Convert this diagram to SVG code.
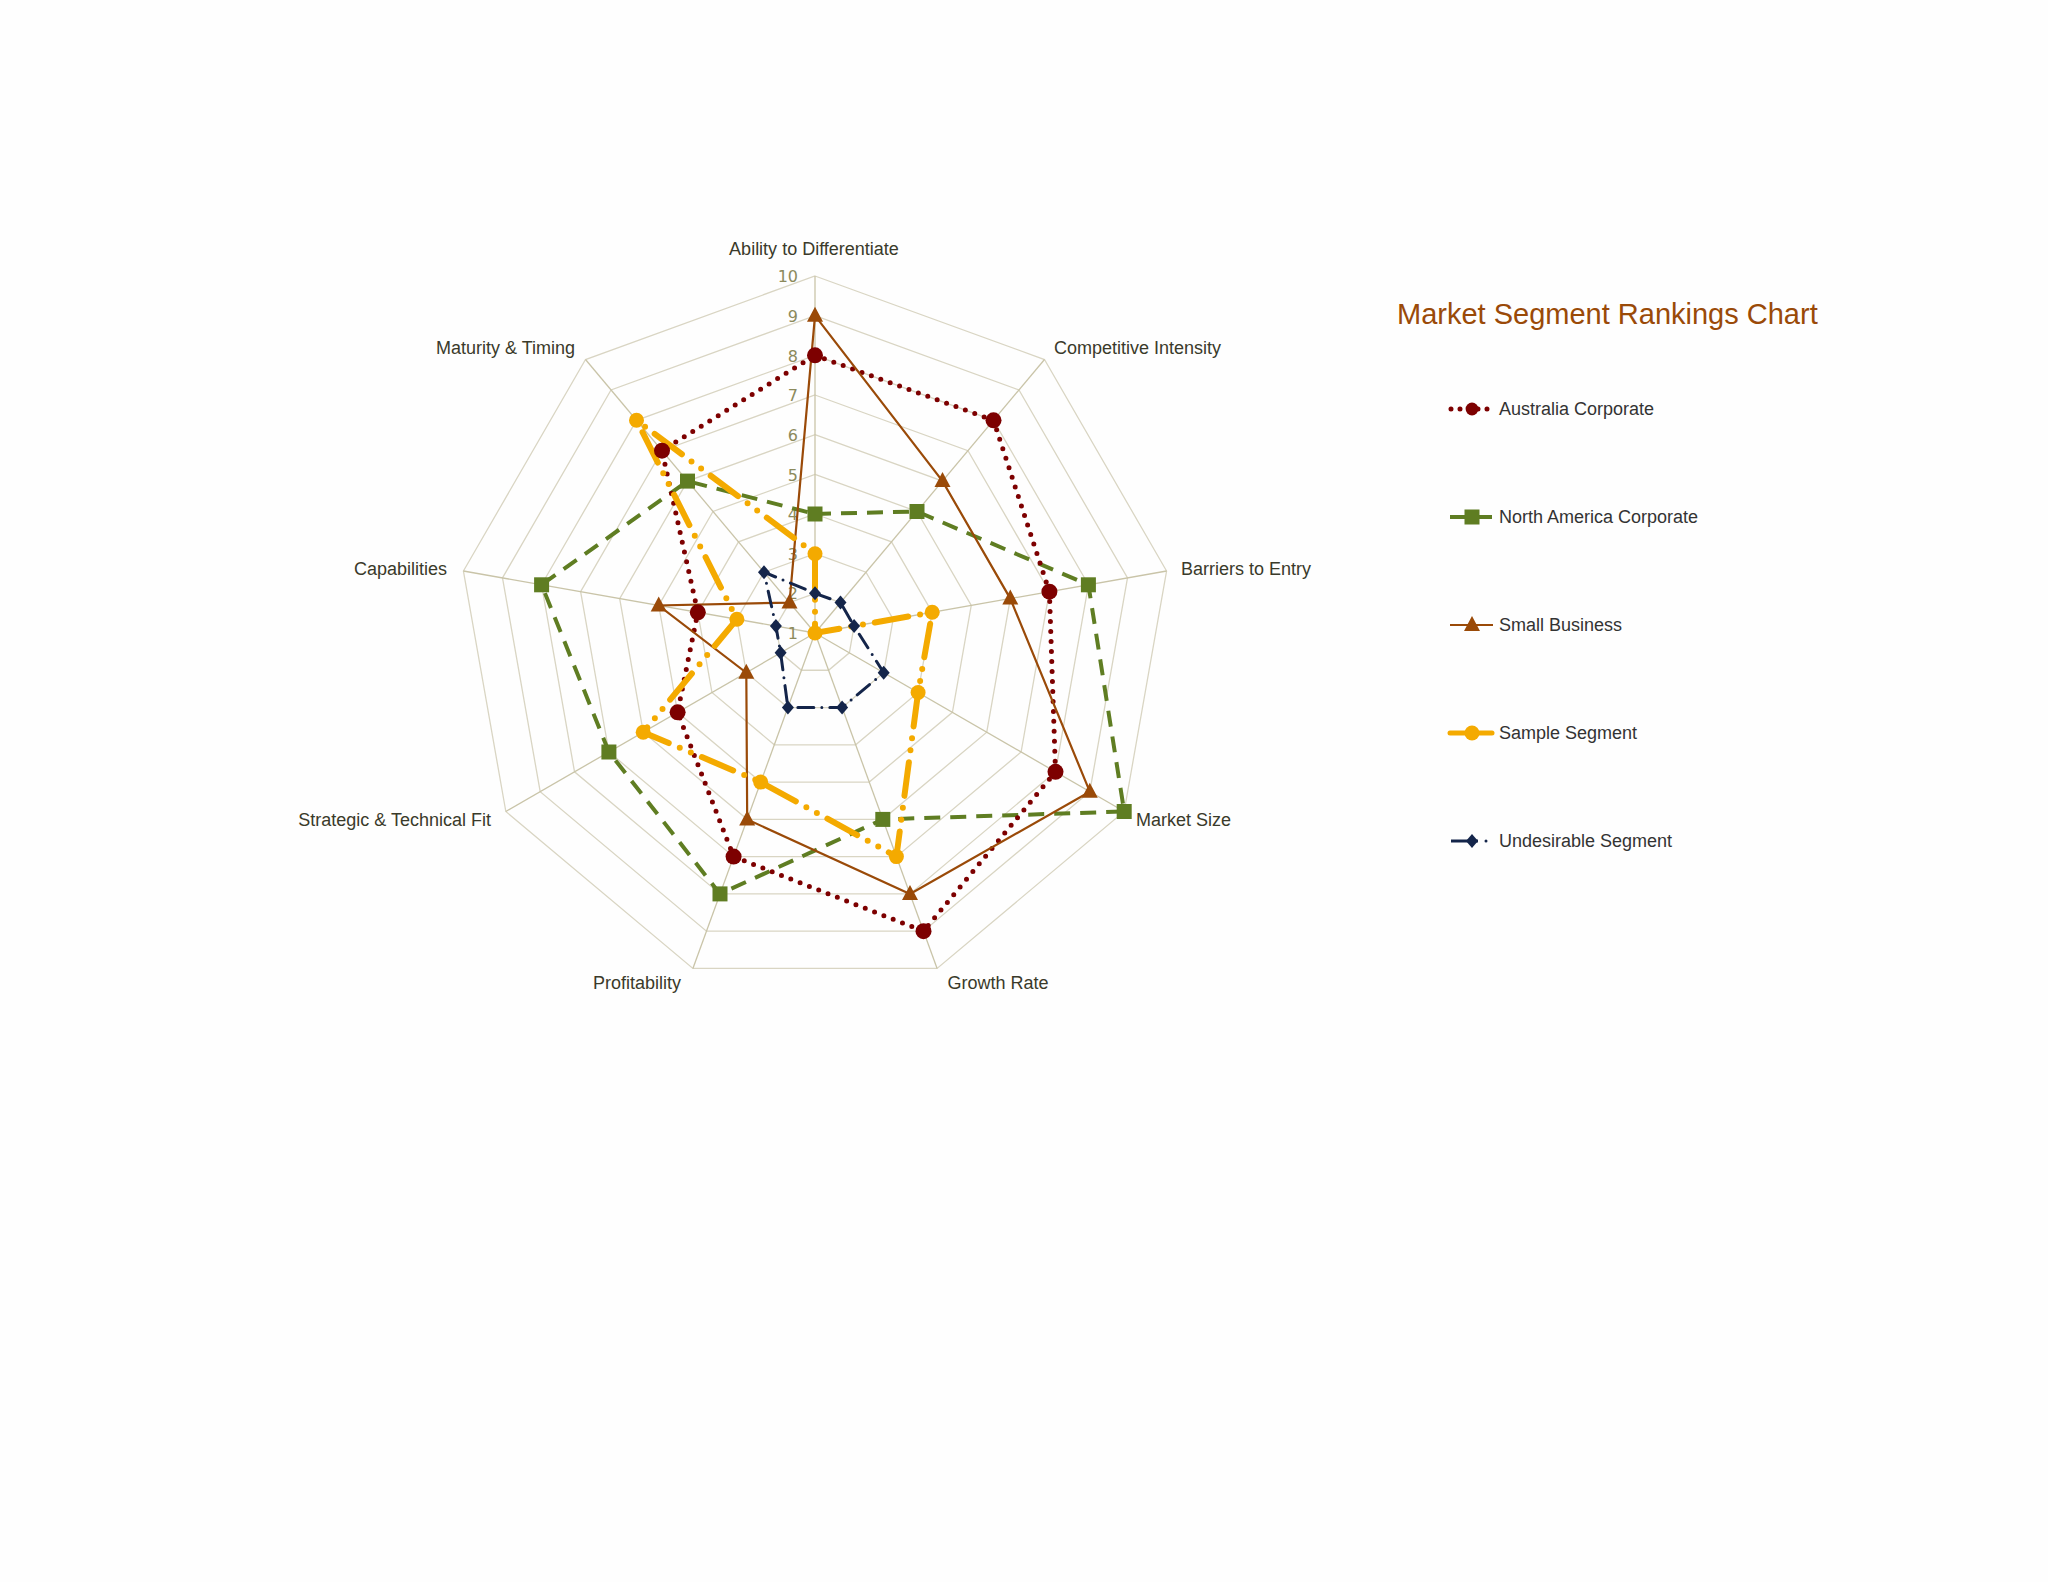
<svg xmlns="http://www.w3.org/2000/svg" xmlns:xlink="http://www.w3.org/1999/xlink" width="2048" height="1582" viewBox="0 0 2048 1582">
<style>
text{font-family:"Liberation Sans",Arial,sans-serif}
.ax{font-size:18px;fill:#3a3a2a}
.lv{font-size:16px;fill:#8c8a5c;text-anchor:end;font-family:"DejaVu Sans",sans-serif}
.ring{fill:none;stroke:#d9d5c3;stroke-width:1.3}
.spoke{stroke:#c9c4a8;stroke-width:1.3}
.au{fill:none;stroke:#7d0000;stroke-width:5;stroke-dasharray:0 10;stroke-linecap:round}
.na{fill:none;stroke:#5f7d22;stroke-width:4;stroke-dasharray:16 10}
.sb{fill:none;stroke:#9a4a08;stroke-width:2.2}
.ss{fill:none;stroke:#f4aa00;stroke-width:6;stroke-dasharray:34 12 0 12 0 12;stroke-linecap:round}
.un{fill:none;stroke:#14254a;stroke-width:3;stroke-dasharray:16 8 0 8;stroke-linecap:round}
.lg{font-size:18px;fill:#333}
</style>
<defs>
<circle id="mc" r="8" fill="#7d0000"/>
<rect id="ms" x="-7.5" y="-7.5" width="15" height="15" fill="#5f7d22"/>
<path id="mt" d="M0,-9 L8,6 L-8,6Z" fill="#9a4a08"/>
<circle id="my" r="7.5" fill="#f4aa00"/>
<path id="md" d="M0,-7 L6,0 L0,7 L-6,0Z" fill="#14254a"/>
<polygon id="nona" points="0,-1 0.6428,-0.766 0.9848,-0.1736 0.866,0.5 0.342,0.9397 -0.342,0.9397 -0.866,0.5 -0.9848,-0.1736 -0.6428,-0.766"/>
</defs>
<rect width="2048" height="1582" fill="#fefefe"/>
<g id="grid">
<g transform="translate(815,633)">
<use href="#nona" class="ring" transform="scale(39.67)" vector-effect="non-scaling-stroke" style="stroke-width:0.033"/>
<use href="#nona" class="ring" transform="scale(79.33)" style="stroke-width:0.0164"/>
<use href="#nona" class="ring" transform="scale(119)" style="stroke-width:0.011"/>
<use href="#nona" class="ring" transform="scale(158.67)" style="stroke-width:0.0082"/>
<use href="#nona" class="ring" transform="scale(198.33)" style="stroke-width:0.0066"/>
<use href="#nona" class="ring" transform="scale(238)" style="stroke-width:0.0055"/>
<use href="#nona" class="ring" transform="scale(277.67)" style="stroke-width:0.0047"/>
<use href="#nona" class="ring" transform="scale(317.33)" style="stroke-width:0.0041"/>
<use href="#nona" class="ring" transform="scale(357)" style="stroke-width:0.0036"/>
</g>
<line class="spoke" x1="815" y1="633" x2="815" y2="276"/>
<line class="spoke" x1="815" y1="633" x2="1044.5" y2="359.5"/>
<line class="spoke" x1="815" y1="633" x2="1166.6" y2="571"/>
<line class="spoke" x1="815" y1="633" x2="1124.2" y2="811.5"/>
<line class="spoke" x1="815" y1="633" x2="937.1" y2="968.5"/>
<line class="spoke" x1="815" y1="633" x2="692.9" y2="968.5"/>
<line class="spoke" x1="815" y1="633" x2="505.8" y2="811.5"/>
<line class="spoke" x1="815" y1="633" x2="463.4" y2="571"/>
<line class="spoke" x1="815" y1="633" x2="585.5" y2="359.5"/>
</g>
<g id="levels">
<text class="lv" x="798" y="639">1</text>
<text class="lv" x="798" y="599">2</text>
<text class="lv" x="798" y="560">3</text>
<text class="lv" x="798" y="520">4</text>
<text class="lv" x="798" y="481">5</text>
<text class="lv" x="798" y="441">6</text>
<text class="lv" x="798" y="401">7</text>
<text class="lv" x="798" y="362">8</text>
<text class="lv" x="798" y="322">9</text>
<text class="lv" x="798" y="282">10</text>
</g>
<g id="axis-labels">
<text class="ax" x="814" y="255" text-anchor="middle">Ability to Differentiate</text>
<text class="ax" x="1054" y="354">Competitive Intensity</text>
<text class="ax" x="1181" y="575">Barriers to Entry</text>
<text class="ax" x="1136" y="826">Market Size</text>
<text class="ax" x="998" y="989" text-anchor="middle">Growth Rate</text>
<text class="ax" x="637" y="989" text-anchor="middle">Profitability</text>
<text class="ax" x="491" y="826" text-anchor="end">Strategic &amp; Technical Fit</text>
<text class="ax" x="447" y="575" text-anchor="end">Capabilities</text>
<text class="ax" x="575" y="354" text-anchor="end">Maturity &amp; Timing</text>
</g>
<g id="connectors">
<polygon class="na" points="815,514 917,511.5 1088.4,584.8 1124.2,811.5 882.8,819.4 720,893.9 608.9,752 541.6,584.8 687.5,481.1"/>
<polygon class="au" points="815,355.3 993.5,420.3 1049.4,591.7 1055.5,771.8 923.5,931.2 733.6,856.6 677.6,712.3 697.8,612.3 662,450.7"/>
<polygon class="sb" points="815,315.7 942.5,481.1 1010.3,598.6 1089.8,791.7 910,893.9 747.2,819.4 746.3,672.7 658.7,605.5 789.5,602.6"/>
<polygon class="ss" points="815,553.7 815,633 932.2,612.3 918.1,692.5 896.4,856.6 760.7,782.1 643.2,732.2 736.9,619.2 636.5,420.3"/>
<polygon class="un" points="815,593.3 840.5,602.6 854.1,626.1 883.7,672.7 842.1,707.5 787.9,707.5 780.6,652.8 775.9,626.1 764,572.2"/>
</g>
<g id="series-na">
<use href="#ms" x="815" y="514"/><use href="#ms" x="917" y="511.5"/><use href="#ms" x="1088.4" y="584.8"/><use href="#ms" x="1124.2" y="811.5"/><use href="#ms" x="882.8" y="819.4"/><use href="#ms" x="720" y="893.9"/><use href="#ms" x="608.9" y="752"/><use href="#ms" x="541.6" y="584.8"/><use href="#ms" x="687.5" y="481.1"/>
</g>
<g id="series-au">
<use href="#mc" x="815" y="355.3"/><use href="#mc" x="993.5" y="420.3"/><use href="#mc" x="1049.4" y="591.7"/><use href="#mc" x="1055.5" y="771.8"/><use href="#mc" x="923.5" y="931.2"/><use href="#mc" x="733.6" y="856.6"/><use href="#mc" x="677.6" y="712.3"/><use href="#mc" x="697.8" y="612.3"/><use href="#mc" x="662" y="450.7"/>
</g>
<g id="series-sb">
<use href="#mt" x="815" y="315.7"/><use href="#mt" x="942.5" y="481.1"/><use href="#mt" x="1010.3" y="598.6"/><use href="#mt" x="1089.8" y="791.7"/><use href="#mt" x="910" y="893.9"/><use href="#mt" x="747.2" y="819.4"/><use href="#mt" x="746.3" y="672.7"/><use href="#mt" x="658.7" y="605.5"/><use href="#mt" x="789.5" y="602.6"/>
</g>
<g id="series-ss">
<use href="#my" x="815" y="553.7"/><use href="#my" x="815" y="633"/><use href="#my" x="932.2" y="612.3"/><use href="#my" x="918.1" y="692.5"/><use href="#my" x="896.4" y="856.6"/><use href="#my" x="760.7" y="782.1"/><use href="#my" x="643.2" y="732.2"/><use href="#my" x="736.9" y="619.2"/><use href="#my" x="636.5" y="420.3"/>
</g>
<g id="series-un">
<use href="#md" x="815" y="593.3"/><use href="#md" x="840.5" y="602.6"/><use href="#md" x="854.1" y="626.1"/><use href="#md" x="883.7" y="672.7"/><use href="#md" x="842.1" y="707.5"/><use href="#md" x="787.9" y="707.5"/><use href="#md" x="780.6" y="652.8"/><use href="#md" x="775.9" y="626.1"/><use href="#md" x="764" y="572.2"/>
</g>
<g id="title"><text x="1397" y="324" font-size="29" fill="#9a4a08">Market Segment Rankings Chart</text></g>
<g id="legend">
<g id="lg-au"><line x1="1451" y1="409" x2="1489" y2="409" class="au" style="stroke-dasharray:0 9"/><use href="#mc" x="1472" y="409" transform="translate(1472,409) scale(0.8) translate(-1472,-409)"/><text class="lg" x="1499" y="415">Australia Corporate</text></g>
<g id="lg-na"><line x1="1450" y1="517" x2="1492" y2="517" stroke="#5f7d22" stroke-width="4"/><use href="#ms" x="1472" y="517"/><text class="lg" x="1499" y="523">North America Corporate</text></g>
<g id="lg-sb"><line x1="1450" y1="625" x2="1493" y2="625" class="sb"/><use href="#mt" x="1472" y="625"/><text class="lg" x="1499" y="631">Small Business</text></g>
<g id="lg-ss"><line x1="1450" y1="733" x2="1492" y2="733" stroke="#f4aa00" stroke-width="5" stroke-linecap="round"/><use href="#my" x="1472" y="733"/><text class="lg" x="1499" y="739">Sample Segment</text></g>
<g id="lg-un"><line x1="1451" y1="841" x2="1478" y2="841" stroke="#14254a" stroke-width="3"/><use href="#md" x="1472" y="841"/><circle cx="1486" cy="841" r="1.5" fill="#14254a"/><text class="lg" x="1499" y="847">Undesirable Segment</text></g>
</g>
</svg>
